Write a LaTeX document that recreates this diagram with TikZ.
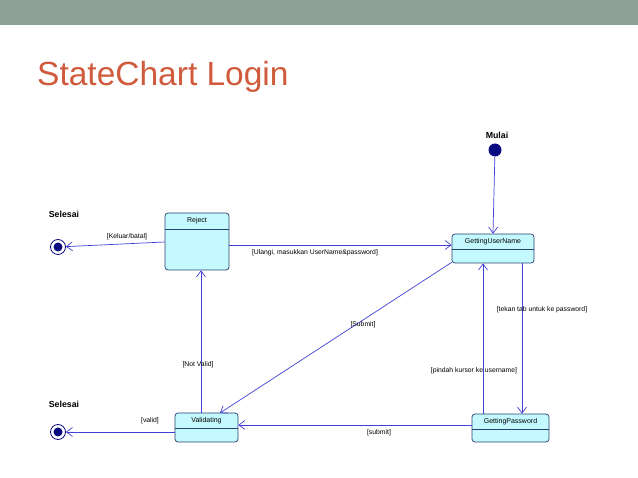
\documentclass[tikz,border=0pt]{standalone}
\usepackage{fontspec}
\setmainfont{Liberation Sans}
\usetikzlibrary{arrows.meta}
\definecolor{bar}{HTML}{8FA097}
\definecolor{ttl}{HTML}{CF5A3C}
\definecolor{edge}{HTML}{4040D8}
\definecolor{sfill}{HTML}{C4FAFF}
\definecolor{sdraw}{HTML}{2A4070}
\definecolor{dot}{HTML}{0A0A80}
\begin{document}
\begin{tikzpicture}[x=1pt,y=-1pt,
  st/.style={draw=sdraw,fill=sfill,rounded corners=3pt,line width=0.7pt},
  tr/.style={draw=edge,line width=0.7pt,-{Straight Barb[length=6pt,width=9pt]}},
  lb/.style={font=\fontsize{6.8}{8}\selectfont,inner sep=0pt},
  nm/.style={font=\fontsize{7}{8}\selectfont,inner sep=0pt},
  bl/.style={font=\bfseries\fontsize{8.8}{10}\selectfont,inner sep=0pt}]
\useasboundingbox (0,0) rectangle (638,478);
\fill[bar] (0,0) rectangle (638,25);
\node[anchor=base west,text=ttl,font=\fontsize{33.5}{36}\selectfont,inner sep=0pt] (title) at (37,86) {StateChart Login};
% states
\node[st,minimum width=64pt,minimum height=57pt,inner sep=0pt] (rej) at (197,241.5) {};
\draw[sdraw,line width=0.7pt] (165,229) -- (229,229);
\node[nm] (rejt) at (197,221) {Reject};
\node[st,minimum width=82pt,minimum height=29pt,inner sep=0pt] (gun) at (493,248.5) {};
\draw[sdraw,line width=0.7pt] (452,249) -- (534,249);
\node[nm] (gunt) at (493,242) {GettingUserName};
\node[st,minimum width=63pt,minimum height=29pt,inner sep=0pt] (val) at (206.5,427.5) {};
\draw[sdraw,line width=0.7pt] (175,428) -- (238,428);
\node[nm] (valt) at (206.5,421) {Validating};
\node[st,minimum width=77pt,minimum height=28pt,inner sep=0pt] (gp) at (510.5,428) {};
\draw[sdraw,line width=0.7pt] (472,429) -- (549,429);
\node[nm] (gpt) at (510.5,422) {GettingPassword};
% pseudo states
\node[circle,fill=dot,minimum size=13pt,inner sep=0pt] (init) at (495,150) {};
\node[bl] (mulai) at (497,135) {Mulai};
\node[circle,draw=dot,fill=white,line width=0.8pt,minimum size=15pt,inner sep=0pt] (f1) at (58,247) {};
\node[circle,fill=dot,minimum size=9pt,inner sep=0pt] at (f1) {};
\node[circle,draw=dot,fill=white,line width=0.8pt,minimum size=15pt,inner sep=0pt] (f2) at (58,432) {};
\node[circle,fill=dot,minimum size=9pt,inner sep=0pt] at (f2) {};
\node[bl] (s1) at (64,214) {Selesai};
\node[bl] (s2) at (64,404) {Selesai};
% transitions
\draw[tr] (init) -- (gun.north);
\draw[tr] (rej.west |- 0,242) -- (f1);
\node[lb] at (127,237) {[Keluar/batal]};
\draw[tr] (rej.east |- 0,245) -- (gun.west |- 0,245);
\node[lb] at (315,253) {[Ulangi, masukkan UserName\&password]};
\draw[tr] (gun.south west) ++(0,-1) coordinate (a1) (a1) -- (220,413) coordinate (a2);
\node[lb] at (363,325) {[Submit]};
\draw[tr] (val.north -| 201,0) -- (rej.south -| 201,0);
\node[lb] at (198,365) {[Not Valid]};
\draw[tr] (val.west |- 0,432) -- (f2);
\node[lb] at (150,421) {[valid]};
\draw[tr] (gp.west |- 0,425) -- (val.east |- 0,425);
\node[lb] at (379,433) {[submit]};
\draw[tr] (gun.south -| 522,0) -- (gp.north -| 522,0);
\node[lb] at (542,310) {[tekan tab untuk ke password]};
\draw[tr] (gp.north -| 483,0) -- (gun.south -| 483,0);
\node[lb] at (474,371) {[pindah kursor ke username]};
\end{tikzpicture}
\end{document}
